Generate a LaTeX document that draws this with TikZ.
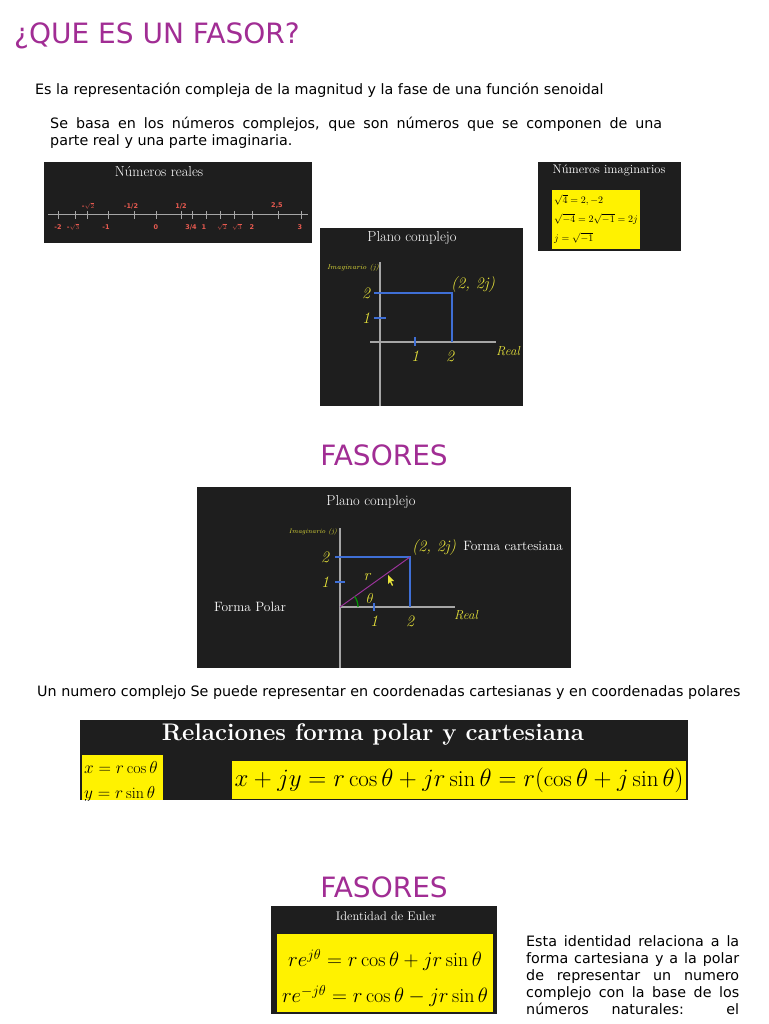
\documentclass[tikz,border=0pt]{standalone}
\usepackage{amsmath}
\usepackage{fontspec}
\newfontfamily\dv{DejaVu Sans}
\newfontfamily\serfont{Latin Modern Roman}
\begin{document}
\begin{tikzpicture}[x=1pt,y=-1pt,
  ttl/.style={text=purp,font=\dv\fontsize{28}{30}\selectfont,inner sep=0},
  body/.style={font=\dv\fontsize{14.3}{17}\selectfont,inner sep=0},
  pic/.style={fill=blk,draw=none},
  ylw/.style={fill=yellow,draw=none},
  itl/.style={text=white,font=\serfont\fontsize{14.5}{16}\selectfont,inner sep=0},
  yl/.style={text=yellowish,font=\serfont\itshape\fontsize{16}{16}\selectfont,inner sep=0},
  ax/.style={draw=gray!70!white,line width=1.2pt},
  bl/.style={draw=blueline,line width=1.6pt},
  rl/.style={text=redl,font=\dv\fontsize{6.5}{8}\selectfont\bfseries,inner sep=0}]
\definecolor{purp}{HTML}{A12D94}
\definecolor{blk}{HTML}{1E1E1E}
\definecolor{yellowish}{HTML}{E6E23A}
\definecolor{blueline}{HTML}{3F6FD6}
\definecolor{redl}{HTML}{E85A50}
\useasboundingbox[fill=white] (0,0) rectangle (768,1024);
% title
\node[ttl,anchor=west] (t1) at (14,36) {¿QUE ES UN FASOR?};
\node[body,anchor=west] (l1) at (35,90) {Es la representación compleja de la magnitud y la fase de una función senoidal};
\node[body,anchor=base west] (p1a) at (50,129) {\makebox[612pt][s]{Se basa en los números complejos, que son números que se componen de una}};
\node[body,anchor=base west] (p1b) at (50,146) {parte real y una parte imaginaria.};
% image 1: numeros reales
\fill[pic] (44,162) rectangle (312,243);
\node[itl] (i1t) at (159,172) {Números reales};
\draw[ax,line width=1pt] (48,215) -- (308,215);
\foreach \x in {58,75,87,108,134,156,181,192,206,220,234,252,278,301}{\draw[gray!70,line width=1pt] (\x,211) -- (\x,219);}
\foreach \x/\l in {58/{-2},73/{-$\sqrt{3}$},106/{-1},156/{0},191/{3/4},204/{1},222/{$\sqrt{2}$},237/{$\sqrt{3}$},252/{2},300/{3}}{\node[rl] at (\x,227) {\l};}
\foreach \x/\l in {88/{-$\sqrt{2}$},131/{-1/2},181/{1/2},277/{2,5}}{\node[rl] at (\x,206) {\l};}
% image 2: numeros imaginarios
\fill[pic] (538,162) rectangle (681,251);
\node[itl,font=\serfont\fontsize{12.5}{14}\selectfont] (i2t) at (609,170) {Números imaginarios};
\fill[ylw] (552,190) rectangle (640,249);
\node[inner sep=0,anchor=west,font=\fontsize{10}{12}\selectfont] at (554,200) {$\sqrt{4}=2,-2$};
\node[inner sep=0,anchor=west,font=\fontsize{10}{12}\selectfont] at (554,219) {$\sqrt{-4}=2\sqrt{-1}=2j$};
\node[inner sep=0,anchor=west,font=\fontsize{10}{12}\selectfont] at (554,238) {$j=\sqrt{-1}$};
% image 3: plano complejo
\fill[pic] (320,228) rectangle (523,406);
\node[itl] (i3t) at (412,238) {Plano complejo};
\draw[ax] (380,262) -- (380,406);
\draw[ax] (370,342) -- (496,342);
\draw[bl] (374,293) -- (452,293) -- (452,342);
\draw[bl] (374,318) -- (386,318);
\draw[bl] (415,337) -- (415,346);
\node[yl,font=\serfont\itshape\fontsize{7}{8}\selectfont] at (353,268) {Imaginario (j)};
\node[yl] at (366,293) {2};
\node[yl] at (366,318) {1};
\node[yl] at (415,356) {1};
\node[yl] at (450,356) {2};
\node[yl] at (473,285) {(2, 2j)};
\node[yl,font=\serfont\itshape\fontsize{13}{14}\selectfont] at (508,351) {Real};
% FASORES
\node[ttl] (f1) at (384,455) {FASORES};
% image 4
\fill[pic] (197,487) rectangle (571,668);
\node[itl] (i4t) at (371,502) {Plano complejo};
\draw[ax] (340,528) -- (340,668);
\draw[ax] (340,607) -- (455,607);
\draw[bl] (335,557) -- (410,557) -- (410,607);
\draw[bl] (335,582) -- (345,582);
\draw[bl] (374,603) -- (374,611);
\draw[draw=violet!80!white,line width=1pt] (340,607) -- (410,557);
\draw[green!60!black,line width=1.2pt] (358,607) arc[start angle=0,end angle=-36,radius=18];
\fill[yellowish] (388,575) -- (388,584) -- (390,582) -- (392,586) -- (393,585) -- (391,581) -- (394,581) -- cycle;
\node[yl,font=\serfont\itshape\fontsize{6.5}{8}\selectfont] at (313,532) {Imaginario (j)};
\node[yl] at (325,557) {2};
\node[yl] at (325,582) {1};
\node[yl] at (367,577) {r};
\node[yl,font=\fontsize{14}{14}\selectfont] at (370,598) {$\theta$};
\node[yl] at (374,621) {1};
\node[yl] at (410,621) {2};
\node[yl] at (434,548) {(2, 2j)};
\node[itl,font=\serfont\fontsize{13.5}{16}\selectfont] at (513,546) {Forma cartesiana};
\node[itl,font=\serfont\fontsize{13.5}{16}\selectfont] at (250,607) {Forma Polar};
\node[yl,font=\serfont\itshape\fontsize{13}{14}\selectfont] at (466,615) {Real};
\node[body,anchor=west] (l2) at (37,693) {Un numero complejo Se puede representar en coordenadas cartesianas y en coordenadas polares};
% image 5
\fill[pic] (80,720) rectangle (688,800);
\node[itl,font=\serfont\bfseries\fontsize{24}{26}\selectfont] (i5t) at (373,734) {Relaciones forma polar y cartesiana};
\fill[ylw] (82,755) rectangle (163,800);
\fill[ylw] (232,761) rectangle (686,799);
\begin{scope}
\clip (82,755) rectangle (163,800);
\node[inner sep=0,anchor=west,font=\fontsize{16}{18}\selectfont] at (84,768) {$x=r\cos\theta$};
\node[inner sep=0,anchor=west,font=\fontsize{16}{18}\selectfont] at (84,794) {$y=r\sin\theta$};
\end{scope}
\node[inner sep=0,font=\fontsize{23}{26}\selectfont] at (459,780) {$x+jy=r\cos\theta+jr\sin\theta=r(\cos\theta+j\sin\theta)$};
% FASORES 2
\node[ttl] (f2) at (384,887) {FASORES};
% image 6
\fill[pic] (271,906) rectangle (497,1014);
\node[itl,font=\serfont\fontsize{12.5}{14}\selectfont] (i6t) at (386,916) {Identidad de Euler};
\fill[ylw] (277,934) rectangle (493,1012);
\node[inner sep=0,font=\fontsize{20}{22}\selectfont] at (385,960) {$re^{j\theta}=r\cos\theta+jr\sin\theta$};
\node[inner sep=0,font=\fontsize{20}{22}\selectfont] at (385,996) {$re^{-j\theta}=r\cos\theta-jr\sin\theta$};
\foreach \i/\t in {0/{Esta identidad relaciona a la},1/{forma cartesiana y a la polar},2/{de representar un numero},3/{complejo con la base de los},4/{números naturales: el}}{
  \node[body,anchor=base west] (p2\i) at (526,946+17*\i) {\makebox[213pt][s]{\t}};
}
\end{tikzpicture}
\end{document}
